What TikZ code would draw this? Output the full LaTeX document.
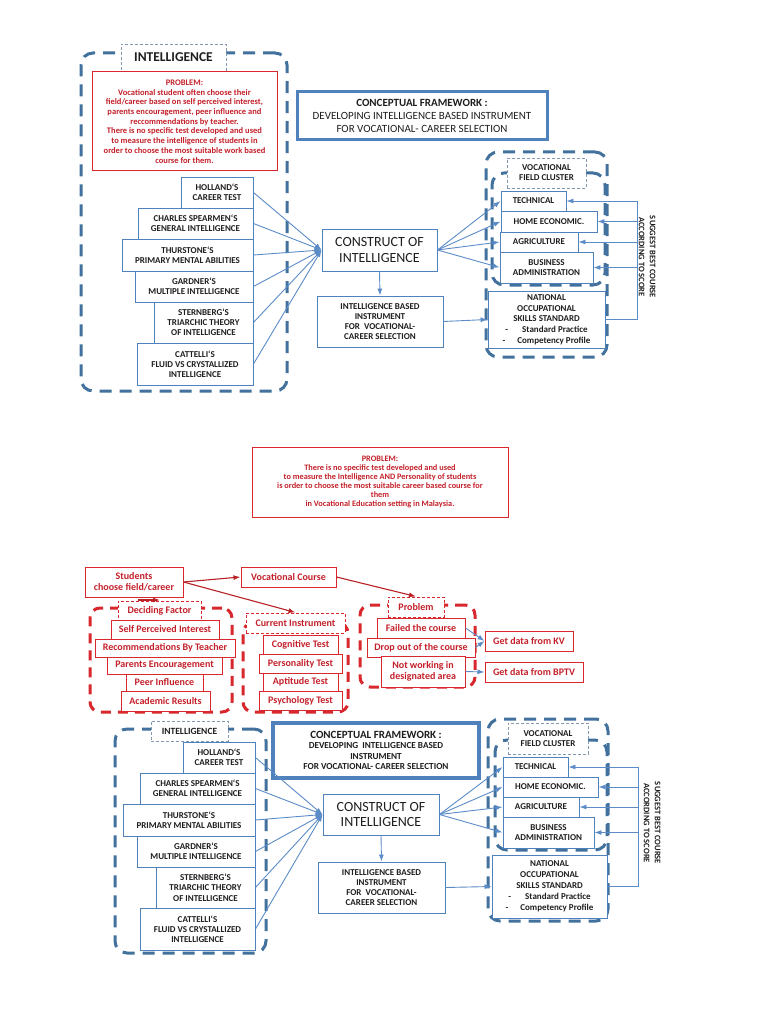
\documentclass[tikz,border=0pt]{standalone}
\usepackage{fontspec}
\setmainfont{Carlito}
\usetikzlibrary{arrows.meta,calc}
\definecolor{boxblue}{HTML}{4F81BD}
\definecolor{dashblue}{HTML}{41719C}
\definecolor{lineblue}{HTML}{5B8CC8}
\definecolor{grayd}{HTML}{8497B0}
\definecolor{redl}{HTML}{D8282E}
\definecolor{redt}{HTML}{C4202A}
\definecolor{txt}{HTML}{1E1E1E}
\tikzset{
 bx/.style={draw=boxblue, line width=0.9pt, fill=white, align=center, inner sep=0.5pt, text=txt, font=\bfseries\fontsize{9}{10.2}\selectfont},
 rbx/.style={draw=redl, line width=1pt, fill=white, align=center, inner sep=0.5pt, text=redt, font=\bfseries\fontsize{10}{10.7}\selectfont},
 gdash/.style={draw=grayd, dash pattern=on 3pt off 2pt, line width=0.8pt},
 rdash/.style={rbx, dash pattern=on 3pt off 2pt},
 bigblue/.style={draw=dashblue, line width=3pt, dash pattern=on 12pt off 8pt, rounded corners=12pt, fill=none},
 bigred/.style={draw=redl, line width=3pt, dash pattern=on 10pt off 7pt, rounded corners=10pt, fill=none},
 conn/.style={draw=lineblue, line width=0.9pt, -{Latex[length=7pt,width=5pt]}},
 rconn/.style={draw=redl!85!black, line width=1.1pt, -{Latex[length=7pt,width=5pt]}},
 plainline/.style={draw=lineblue, line width=0.9pt},
 rottext/.style={rotate=-90, align=center, text=txt, font=\bfseries\fontsize{8.5}{11}\selectfont, inner sep=0pt},
}
\newcommand\mybx[7][]{\node[bx,#1,minimum width={(#5-#3)*1pt},minimum height={(#6-#4)*1pt}] (#2) at ({(#3+#5)/2},{(#4+#6)/2}) {#7};}
\begin{document}
\begin{tikzpicture}[x=1pt,y=-1pt]
\useasboundingbox[fill=white] (0,0) rectangle (768,1024);
%% ================= TOP SECTION =================
\mybx[bigblue]{g1}{81}{53}{287}{391}{}
\mybx[gdash, font=\bfseries\fontsize{13.5}{15}\selectfont]{int1}{121}{44}{226}{71}{INTELLIGENCE}
\mybx[rbx, font=\bfseries\fontsize{8.5}{9.7}\selectfont]{prob1}{92}{72}{277}{171}{PROBLEM:\\Vocational student often choose their\\field/career based on self perceived interest,\\parents encouragement, peer influence and\\reccommendations by teacher.\\There is no specific test developed and used\\to measure the intelligence of students in\\order to choose the most suitable work based\\course for them.}
\mybx{hol1}{181}{177}{253}{208}{HOLLAND`S\\CAREER TEST}
\mybx{spe1}{138}{208}{253}{239}{CHARLES SPEARMEN`S\\GENERAL INTELLIGENCE}
\mybx{thu1}{122}{239}{253}{271}{THURSTONE`S\\PRIMARY MENTAL ABILITIES}
\mybx{gar1}{135}{271}{253}{302}{GARDNER`S\\MULTIPLE INTELLIGENCE}
\mybx{ste1}{154}{302}{253}{343}{STERNBERG`S\\TRIARCHIC THEORY\\OF INTELLIGENCE}
\mybx{cat1}{137}{343}{253}{385}{CATTELLI`S\\FLUID VS CRYSTALLIZED\\INTELLIGENCE}
\mybx[line width=3pt, font=\fontsize{11}{12.8}\selectfont]{cf1}{297}{92}{547}{140}{\textbf{CONCEPTUAL FRAMEWORK :}\\DEVELOPING INTELLIGENCE BASED INSTRUMENT\\FOR VOCATIONAL- CAREER SELECTION}
\mybx[font=\fontsize{14}{15.5}\selectfont]{con1}{322}{229}{437}{271}{CONSTRUCT OF\\INTELLIGENCE}
\mybx{ibi1}{317}{296}{443}{347}{INTELLIGENCE BASED\\INSTRUMENT\\FOR\ \ VOCATIONAL-\\CAREER SELECTION}
\mybx[bigblue]{vo1}{486}{152}{607}{357}{}
\mybx[bigblue]{vi1}{492}{173}{605}{285}{}
\mybx[gdash, font=\bfseries\fontsize{9}{10}\selectfont]{vfc1}{507}{158}{586}{188}{VOCATIONAL\\FIELD CLUSTER}
\mybx{tec1}{501}{191}{566}{211}{TECHNICAL}
\mybx{hom1}{501}{211}{597}{232}{HOME ECONOMIC.}
\mybx{agr1}{500}{232}{578}{252}{AGRICULTURE}
\mybx{bus1}{500}{252}{593}{283}{BUSINESS\\ADMINISTRATION}
\mybx[font=\bfseries\fontsize{9}{10.7}\selectfont, inner sep=0pt]{nos1}{488}{291}{605}{348}{NATIONAL\\OCCUPATIONAL\\SKILLS STANDARD\\-\hspace{14pt}Standard Practice\\-\hspace{12pt}Competency Profile}
\node[rottext] (sg1) at (647,257) {SUGGEST BEST COURSE\\ACCORDING TO SCORE};
\foreach \n in {hol1,spe1,thu1,gar1,ste1,cat1} \draw[conn] (\n.east) -- (con1.west);
\foreach \n in {tec1,hom1,agr1,bus1} \draw[conn] (con1.east) -- (\n.west);
\draw[conn] (con1.south) -- (ibi1.north);
\draw[conn] (ibi1.east) -- (nos1.west);
\coordinate (bxa) at (637,200);
\draw[plainline] (nos1.east) -- (nos1.east -| bxa) -- (tec1.east -| bxa);
\foreach \n in {tec1,hom1,agr1,bus1} \draw[conn] (\n.east -| bxa) -- (\n.east);
%% ================= MIDDLE PROBLEM =================
\mybx[rbx, font=\bfseries\fontsize{8.3}{9}\selectfont]{prob2}{252}{447}{508}{517}{PROBLEM:\\There is no specific test developed and used\\to measure the Intelligence AND Personality of students\\is order to choose the most suitable career based course for\\them\\in Vocational Education setting in Malaysia.}
%% ================= RED SECTION =================
\mybx[rbx]{stu}{85}{567}{183}{597}{Students\\choose field/career}
\mybx[rbx]{voc}{241}{567}{336}{587}{Vocational Course}
\mybx[bigred]{rda}{90}{608}{232}{712}{}
\mybx[rdash]{dec}{118}{601}{201}{621}{Deciding Factor}
\mybx[rbx]{spi}{111}{620}{219}{639}{Self Perceived Interest}
\mybx[rbx]{rbt}{95}{639}{235}{657}{Recommendations By Teacher}
\mybx[rbx]{pen}{107}{657}{222}{674}{Parents Encouragement}
\mybx[rbx]{pin}{126}{674}{203}{691}{Peer Influence}
\mybx[rbx]{acr}{121}{691}{210}{711}{Academic Results}
\mybx[bigred]{rdb}{243}{623}{348}{712}{}
\mybx[rdash]{cur}{246}{613}{345}{633}{Current Instrument}
\mybx[rbx]{cog}{263}{635}{338}{654}{Cognitive Test}
\mybx[rbx]{per}{259}{654}{342}{673}{Personality Test}
\mybx[rbx]{apt}{263}{673}{338}{691}{Aptitude Test}
\mybx[rbx]{psy}{259}{691}{342}{710}{Psychology Test}
\mybx[bigred]{rdc}{360}{605}{475}{687}{}
\mybx[rdash]{pro}{388}{597}{444}{617}{Problem}
\mybx[rbx]{fai}{377}{618}{465}{638}{Failed the course}
\mybx[rbx]{dro}{367}{638}{475}{657}{Drop out of the course}
\mybx[rbx]{now}{381}{656}{465}{687}{Not working in\\designated area}
\mybx[rbx]{kv}{485}{631}{573}{651}{Get data from KV}
\mybx[rbx]{bptv}{485}{662}{583}{682}{Get data from BPTV}
\draw[rconn] (stu.east) -- (voc.west);
\draw[rconn] (stu.east) -- (cur.north);
\draw[rconn] (voc.east) -- (pro.north);
\coordinate (sa) at (138,600);
\coordinate (sb) at (160,600);
\draw[rconn] (sa) -- (sb);
\draw[conn] (fai.east) -- (kv.west);
\draw[conn] (dro.east) -- (kv.west);
\draw[conn] (now.east) -- (bptv.west);
%% ================= BOTTOM SECTION =================
\mybx[bigblue]{g2}{115}{729}{266}{953}{}
\mybx[gdash, font=\bfseries\fontsize{9.5}{11}\selectfont]{int2}{151}{721}{228}{741}{INTELLIGENCE}
\mybx{hol2}{183}{742}{255}{773}{HOLLAND`S\\CAREER TEST}
\mybx{spe2}{140}{773}{255}{804}{CHARLES SPEARMEN`S\\GENERAL INTELLIGENCE}
\mybx{thu2}{123}{804}{255}{836}{THURSTONE`S\\PRIMARY MENTAL ABILITIES}
\mybx{gar2}{137}{836}{255}{867}{GARDNER`S\\MULTIPLE INTELLIGENCE}
\mybx{ste2}{156}{867}{255}{908}{STERNBERG`S\\TRIARCHIC THEORY\\OF INTELLIGENCE}
\mybx{cat2}{140}{908}{255}{950}{CATTELLI`S\\FLUID VS CRYSTALLIZED\\INTELLIGENCE}
\mybx[line width=3.5pt, font=\bfseries\fontsize{9.2}{10.5}\selectfont]{cf2}{273}{723}{479}{778}{{\fontsize{11}{12.5}\selectfont CONCEPTUAL FRAMEWORK :}\\DEVELOPING\ \ INTELLIGENCE BASED\\INSTRUMENT\\FOR VOCATIONAL-\ CAREER SELECTION}
\mybx[font=\fontsize{14}{15.5}\selectfont]{con2}{323}{794}{439}{835}{CONSTRUCT OF\\INTELLIGENCE}
\mybx{ibi2}{318}{862}{445}{913}{INTELLIGENCE BASED\\INSTRUMENT\\FOR\ \ VOCATIONAL-\\CAREER SELECTION}
\mybx[bigblue]{vo2}{488}{719}{608}{921}{}
\mybx[bigblue]{vi2}{495}{740}{607}{850}{}
\mybx[gdash, font=\bfseries\fontsize{9}{10}\selectfont]{vfc2}{508}{723}{588}{754}{VOCATIONAL\\FIELD CLUSTER}
\mybx{tec2}{503}{757}{568}{777}{TECHNICAL}
\mybx{hom2}{503}{777}{598}{797}{HOME ECONOMIC.}
\mybx{agr2}{503}{797}{579}{817}{AGRICULTURE}
\mybx{bus2}{503}{817}{594}{848}{BUSINESS\\ADMINISTRATION}
\mybx[font=\bfseries\fontsize{9}{11}\selectfont, inner sep=0pt]{nos2}{492}{855}{607}{918}{NATIONAL\\OCCUPATIONAL\\SKILLS STANDARD\\-\hspace{14pt}Standard Practice\\-\hspace{12pt}Competency Profile}
\node[rottext] (sg2) at (652,823) {SUGGEST BEST COURSE\\ACCORDING TO SCORE};
\foreach \n in {hol2,spe2,thu2,gar2,ste2,cat2} \draw[conn] (\n.east) -- (con2.west);
\foreach \n in {tec2,hom2,agr2,bus2} \draw[conn] (con2.east) -- (\n.west);
\draw[conn] (con2.south) -- (ibi2.north);
\draw[conn] (ibi2.east) -- (nos2.west);
\coordinate (bxb) at (638,765);
\draw[plainline] (nos2.east) -- (nos2.east -| bxb) -- (tec2.east -| bxb);
\foreach \n in {tec2,hom2,agr2,bus2} \draw[conn] (\n.east -| bxb) -- (\n.east);
\end{tikzpicture}
\end{document}
